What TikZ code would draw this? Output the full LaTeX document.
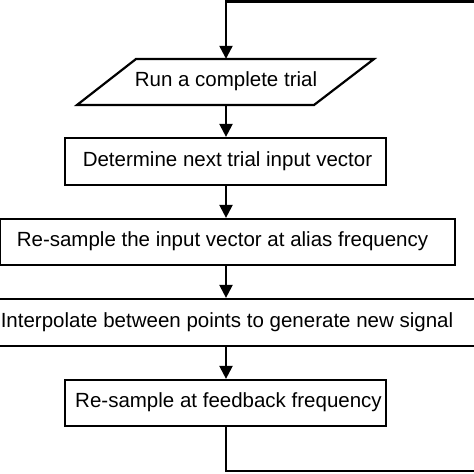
\documentclass[tikz,border=0pt]{standalone}
\usepackage{fontspec}
\setmainfont{Liberation Sans}
\usetikzlibrary{arrows.meta}
\begin{document}
\begin{tikzpicture}[x=1pt,y=-1pt,
  line/.style={line width=2.2pt, draw=black},
  arr/.style={line, -{Triangle[length=13pt,width=13pt]}},
  txt/.style={inner sep=0pt, text height=14.7pt, text depth=5pt, font=\fontsize{20.5}{24}\selectfont},
  stepbox/.style={txt, draw=black, line width=2.2pt},
  plain/.style={txt}]
\useasboundingbox (0,0) rectangle (474,474);
\clip (0,0) rectangle (474,474);
\fill[white] (0,0) rectangle (474,474);
% parallelogram (text node + outline)
\node[plain, minimum width=238pt, minimum height=46pt] (para) at (226,82) {Run a complete trial};
\draw[line, line join=miter] (77,105) -- (136,59) -- (374,59) -- (314,105) -- cycle;
\node[stepbox, minimum width=321pt, minimum height=47pt] (b2) at (225.5,161.5) {Determine next trial input vector\hspace*{-4pt}};
\node[stepbox, minimum width=455pt, minimum height=46pt] (b3) at (227.5,242) {\hspace*{-10pt}Re-sample the input vector at alias frequency};
\node[stepbox, minimum width=510pt, minimum height=47pt] (b4) at (227,322.5) {Interpolate between points to generate new signal};
\node[stepbox, minimum width=321pt, minimum height=46pt] (b5) at (225.5,403) {Re-sample at feedback frequency\hspace*{-6pt}};
\coordinate (topR) at (480,1.5);
\coordinate (botR) at (480,471);
\draw[arr] (topR) -| (para.north);
\draw[arr] (para.south) -- (para.south |- b2.north);
\draw[arr] (para.south |- b2.south) -- (para.south |- b3.north);
\draw[arr] (para.south |- b3.south) -- (para.south |- b4.north);
\draw[arr] (para.south |- b4.south) -- (para.south |- b5.north);
\draw[line] (para.south |- b5.south) |- (botR);
\end{tikzpicture}
\end{document}
